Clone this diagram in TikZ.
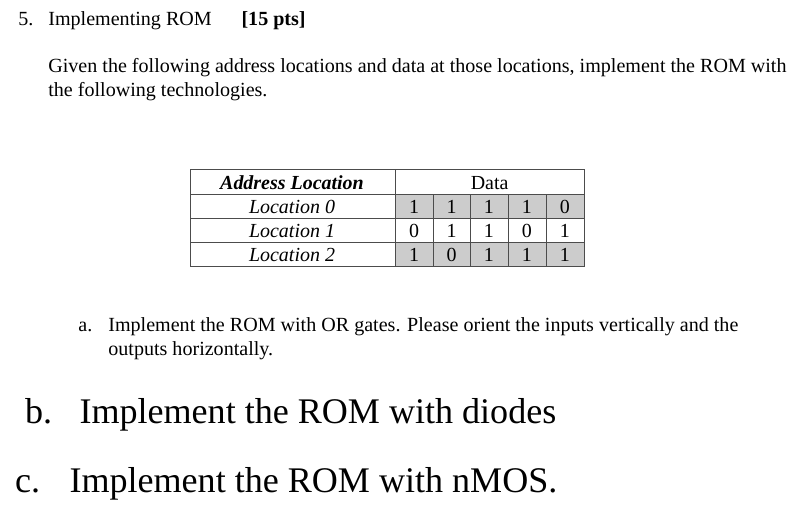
\documentclass[tikz,border=0pt]{standalone}
\usepackage{fontspec}
\setmainfont{Liberation Serif}
\tikzset{
	bodytext/.style={anchor=base west,inner sep=0pt,font=\fontsize{14.28pt}{16pt}\selectfont},
	bigtext/.style={anchor=base west,inner sep=0pt,font=\fontsize{25.65pt}{28pt}\selectfont},
	cell/.style={inner sep=0pt,font=\fontsize{14.2pt}{16pt}\selectfont},
	addr/.style={cell,font=\fontsize{14.2pt}{16pt}\selectfont\itshape}
}
\begin{document}
\begin{tikzpicture}[line width=0.5pt]
	\useasboundingbox (0,0) rectangle (20.025,12.9);

	%SHADED ROWS
	\fill[black!20] (9.875,8.05) rectangle (14.6,7.45);
	\fill[black!20] (9.875,6.85) rectangle (14.6,6.25);

	%TABLE LINES
	\draw[black!70] (4.75,6.25) rectangle (14.6,8.675);
	\draw[black!70] (9.875,6.25)--(9.875,8.675);	%split
	\draw[black!70] (4.75,8.05)--(14.6,8.05);		%top row
	\draw[black!70] (4.75,7.45)--(14.6,7.45);
	\draw[black!70] (4.75,6.85)--(14.6,6.85);
	\draw[black!70] (10.825,6.25)--(10.825,8.05);	%bit columns
	\draw[black!70] (11.75,6.25)--(11.75,8.05);
	\draw[black!70] (12.7,6.25)--(12.7,8.05);
	\draw[black!70] (13.65,6.25)--(13.65,8.05);

	%HEADINGS
	\node[bodytext] (num) at (0.45,12.25) {5.};
	\node[bodytext] (title) at (1.2,12.25) {Implementing ROM};
	\node[bodytext] (pts) at (6.03,12.25) {\textbf{[15 pts]}};
	\node[bodytext] (given) at (1.2,11.075) {Given the following address locations and data at those locations, implement the ROM with};
	\node[bodytext] (given2) at (1.2,10.49) {the following technologies.};

	%TABLE TEXT
	\node[addr,font=\fontsize{14.2pt}{16pt}\selectfont\bfseries\itshape] (addrhead) at (7.3,8.33) {Address Location};
	\node[cell] (datahead) at (12.24,8.33) {Data};
	\node[addr] (loc0) at (7.3,7.73) {Location 0};
	\node[addr] (loc1) at (7.3,7.13) {Location 1};
	\node[addr] (loc2) at (7.3,6.52) {Location 2};
	%
	\node[cell] (a0) at (10.35,7.73) {1};
	\node[cell] (a1) at (11.29,7.73) {1};
	\node[cell] (a2) at (12.22,7.73) {1};
	\node[cell] (a3) at (13.17,7.73) {1};
	\node[cell] (a4) at (14.12,7.73) {0};
	%
	\node[cell] (b0) at (10.35,7.13) {0};
	\node[cell] (b1) at (11.29,7.13) {1};
	\node[cell] (b2) at (12.22,7.13) {1};
	\node[cell] (b3) at (13.17,7.13) {0};
	\node[cell] (b4) at (14.12,7.13) {1};
	%
	\node[cell] (c0) at (10.35,6.52) {1};
	\node[cell] (c1) at (11.29,6.52) {0};
	\node[cell] (c2) at (12.22,6.52) {1};
	\node[cell] (c3) at (13.17,6.52) {1};
	\node[cell] (c4) at (14.12,6.52) {1};

	%QUESTIONS
	\node[bodytext] (parta) at (1.95,4.6) {a.};
	\node[bodytext] (atext) at (2.7,4.6) {Implement the ROM with OR gates. Please orient the inputs vertically and the};
	\node[bodytext] (atext2) at (2.7,4.0) {outputs horizontally.};
	\node[bigtext] (partb) at (0.62,2.3) {b.};
	\node[bigtext] (btext) at (1.98,2.3) {Implement the ROM with diodes};
	\node[bigtext] (partc) at (0.37,0.58) {c.};
	\node[bigtext] (ctext) at (1.73,0.58) {Implement the ROM with nMOS.};
\end{tikzpicture}
\end{document}
